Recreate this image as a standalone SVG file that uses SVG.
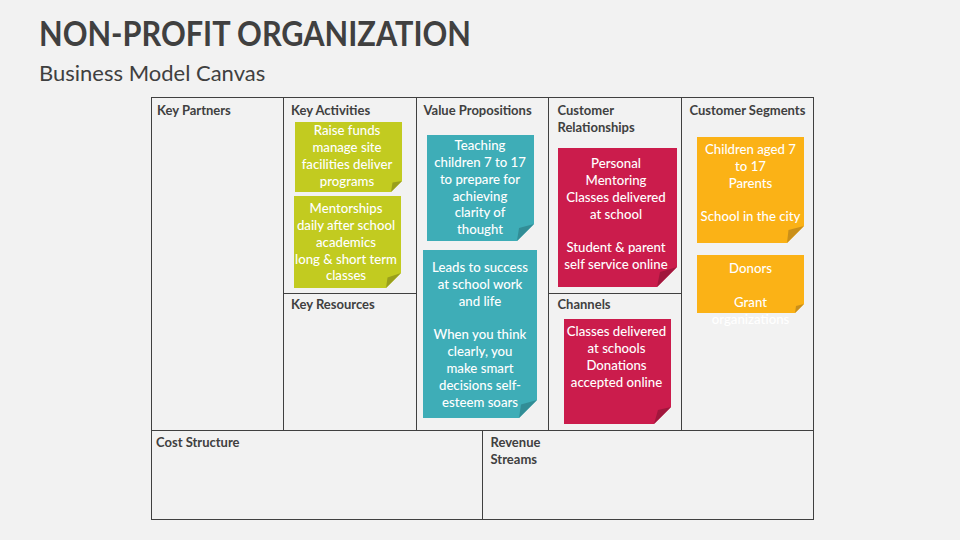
<svg xmlns="http://www.w3.org/2000/svg" width="960" height="540" viewBox="0 0 960 540">
<style>
text{font-family:Lato,"Open Sans",sans-serif}
.h{font-size:13px;font-weight:700;fill:#404040}
.t{font-size:13.2px;font-weight:500;fill:#fff;text-anchor:middle}
.l{stroke:#404040;stroke-width:1;fill:none}
.g{fill:#c2cb20}.gd{fill:#999f1c}
.b{fill:#3eadb7}.bd{fill:#328d96}
.r{fill:#cb1c4c}.rd{fill:#a1173d}
.o{fill:#fbb216}.od{fill:#c98f1a}
</style>
<rect width="960" height="540" fill="#f2f2f2"/>
<text id="title" x="39" y="46" font-size="35" font-weight="700" fill="#404040" textLength="432" lengthAdjust="spacingAndGlyphs">NON-PROFIT ORGANIZATION</text>
<text id="subtitle" x="39" y="81" font-size="22" fill="#404040">Business Model Canvas</text>
<g id="grid" class="l">
<rect class="l" x="151.500" y="97.500" width="662" height="422"/>
<path class="l" d="M151.500 430.500H813.500M283.500 97.500V430.500M416.500 97.500V430.500M548.500 97.500V430.500M681.500 97.500V430.500M482.500 430.500V519.500M283.500 293.500H416.500M548.500 293.500H681.500"/>
</g>
<g id="headers">
<text class="h" x="157" y="115">Key Partners</text>
<text class="h" x="291" y="115">Key Activities</text>
<text class="h" x="423.500" y="115">Value Propositions</text>
<text class="h" x="557.500" y="115">Customer</text>
<text class="h" x="557.500" y="132">Relationships</text>
<text class="h" x="689.500" y="115">Customer Segments</text>
<text class="h" x="291" y="309">Key Resources</text>
<text class="h" x="557.500" y="309">Channels</text>
<text class="h" x="156" y="447">Cost Structure</text>
<text class="h" x="490.500" y="447">Revenue</text>
<text class="h" x="490.500" y="464">Streams</text>
</g>
<g id="note-raise-funds">
<path class="g" d="M295 122H402V181L391 192H295Z"/><path class="gd" d="M391 192L402 181L392.500 182.500Z"/>
<text class="t" x="347" y="135">Raise funds</text><text class="t" x="347" y="152">manage site</text><text class="t" x="347" y="169">facilities deliver</text><text class="t" x="347" y="186">programs</text>
</g>
<g id="note-mentorships">
<path class="g" d="M294 196H401V273L386 288H294Z"/><path class="gd" d="M386 288L401 273L387.500 277.500Z"/>
<text class="t" x="346" y="213">Mentorships</text><text class="t" x="346" y="230">daily after school</text><text class="t" x="346" y="247">academics</text><text class="t" x="346" y="264">long &amp; short term</text><text class="t" x="346" y="280">classes</text>
</g>
<g id="note-teaching">
<path class="b" d="M427 135H534V224L517 241H427Z"/><path class="bd" d="M517 241L534 224L519 228Z"/>
<text class="t" x="480" y="150">Teaching</text><text class="t" x="480" y="167">children 7 to 17</text><text class="t" x="480" y="184">to prepare for</text><text class="t" x="480" y="201">achieving</text><text class="t" x="480" y="217">clarity of</text><text class="t" x="480" y="234">thought</text>
</g>
<g id="note-leads">
<path class="b" d="M423 250H537V400L519 418H423Z"/><path class="bd" d="M519 418L537 400L521 404.500Z"/>
<text class="t" x="480" y="272">Leads to success</text><text class="t" x="480" y="289">at school work</text><text class="t" x="480" y="306">and life</text><text class="t" x="480" y="339">When you think</text><text class="t" x="480" y="356">clearly, you</text><text class="t" x="480" y="373">make smart</text><text class="t" x="480" y="390">decisions self-</text><text class="t" x="480" y="407">esteem soars</text>
</g>
<g id="note-personal">
<path class="r" d="M558 148H677V267L657 287H558Z"/><path class="rd" d="M657 287L677 267L660 272Z"/>
<text class="t" x="616" y="168">Personal</text><text class="t" x="616" y="185">Mentoring</text><text class="t" x="616" y="202">Classes delivered</text><text class="t" x="616" y="219">at school</text><text class="t" x="616" y="252">Student &amp; parent</text><text class="t" x="616" y="269">self service online</text>
</g>
<g id="note-classes">
<path class="r" d="M564 319H671V407L654 424H564Z"/><path class="rd" d="M654 424L671 407L658 410Z"/>
<text class="t" x="616.500" y="336">Classes delivered</text><text class="t" x="616.500" y="353">at schools</text><text class="t" x="616.500" y="370">Donations</text><text class="t" x="616.500" y="387">accepted online</text>
</g>
<g id="note-children">
<path class="o" d="M697 137H804V226L787 243H697Z"/><path class="od" d="M787 243L804 226L788.500 230Z"/>
<text class="t" x="750.500" y="154">Children aged 7</text><text class="t" x="750.500" y="171">to 17</text><text class="t" x="750.500" y="188">Parents</text><text class="t" x="750.500" y="221">School in the city</text>
</g>
<g id="note-donors">
<path class="o" d="M697 255H804V304L795 313H697Z"/><path class="od" d="M795 313L804 304L796 306Z"/>
<text class="t" x="750.500" y="273">Donors</text><text class="t" x="750.500" y="307">Grant</text><text class="t" x="750.500" y="324">organizations</text>
</g>
</svg>
